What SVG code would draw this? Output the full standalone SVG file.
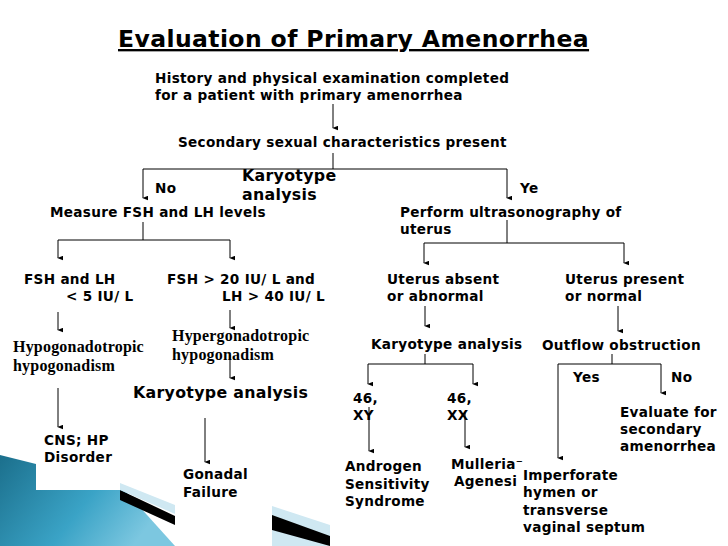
<svg xmlns="http://www.w3.org/2000/svg" width="728" height="546" viewBox="0 0 728 546">
<defs>
<linearGradient id="tg" x1="0" y1="0" x2="1" y2="0.4"><stop offset="0" stop-color="#1b6f8c"/><stop offset="0.6" stop-color="#3aa3c6"/><stop offset="1" stop-color="#7cc7e0"/></linearGradient>
<marker id="ar" viewBox="0 0 6 8" refX="3" refY="7" markerWidth="5" markerHeight="6" orient="auto-start-reverse" markerUnits="userSpaceOnUse"><path d="M0,0 L6,0 L3,8 z" fill="#000"/></marker>
<style>
text{font-family:"DejaVu Sans",Verdana,sans-serif;font-weight:bold;font-size:13.6px;letter-spacing:0.3px;fill:#000}
.t{font-size:23.5px;letter-spacing:0.4px;text-decoration:underline}
.b{font-size:15.8px}
.s{font-family:"Liberation Serif","Times New Roman",serif;font-size:16px;letter-spacing:0.2px}
#conn line,#conn path{stroke:#000;stroke-width:1;fill:none}
.a{marker-end:url(#ar)}
</style>
</defs>
<rect width="728" height="546" fill="#fff"/>
<g id="deco">
<polygon points="0,455 120,485 175,546 0,546" fill="url(#tg)"/>
<polygon points="120,490 175,516 175,525 120,500" fill="#000"/>
<polygon points="120,483 175,505 175,514 120,490" fill="#cfe8f2"/>
<polygon points="272,506 330,525 330,546 272,546" fill="#cfe8f2"/>
<polygon points="272,515 330,536 330,546 272,530" fill="#000"/>
<rect x="36" y="430" width="84" height="60" fill="#fff"/>
<rect x="176" y="462" width="96" height="84" fill="#fff"/>
</g>
<g id="conn">
<line class="a" x1="333" y1="104" x2="333" y2="128"/>
<path d="M333,153 V169 M143,169 H507"/>
<line class="a" x1="143" y1="169" x2="143" y2="198"/>
<line class="a" x1="507" y1="169" x2="507" y2="198"/>
<path d="M143,222 V240 M58,240 H230"/>
<line class="a" x1="58" y1="240" x2="58" y2="258"/>
<line class="a" x1="230" y1="240" x2="230" y2="258"/>
<path d="M507,220 V243 M424,243 H624"/>
<line class="a" x1="424" y1="243" x2="424" y2="263"/>
<line class="a" x1="624" y1="243" x2="624" y2="263"/>
<line class="a" x1="58" y1="312" x2="58" y2="330"/>
<line class="a" x1="230" y1="310" x2="230" y2="328"/>
<line class="a" x1="230" y1="355" x2="230" y2="378"/>
<line class="a" x1="58" y1="388" x2="58" y2="427"/>
<line class="a" x1="205" y1="418" x2="205" y2="462"/>
<line class="a" x1="425" y1="306" x2="425" y2="326"/>
<line class="a" x1="618" y1="306" x2="618" y2="331"/>
<path d="M425,354 V364 M368,364 H473"/>
<line class="a" x1="368" y1="364" x2="368" y2="384"/>
<line class="a" x1="473" y1="364" x2="473" y2="384"/>
<line class="a" x1="369" y1="407" x2="369" y2="451"/>
<line class="a" x1="465" y1="413" x2="465" y2="447"/>
<path d="M612,354 V364 M558,364 H661"/>
<line class="a" x1="558" y1="364" x2="558" y2="458"/>
<line class="a" x1="661" y1="364" x2="661" y2="393"/>
</g>
<text class="t" x="118" y="47">Evaluation of Primary Amenorrhea</text>
<g id="n1"><text x="155" y="83">History and physical examination completed</text><text x="155" y="100">for a patient with primary amenorrhea</text></g>
<g id="n2"><text x="178" y="147">Secondary sexual characteristics present</text></g>
<g id="lno"><text x="155" y="193" font-size="12">No</text></g>
<g id="lka"><text class="b" x="242" y="181">Karyotype</text><text class="b" x="242" y="200">analysis</text></g>
<g id="lye"><text x="520" y="193" font-size="12">Ye</text></g>
<g id="n3"><text x="50" y="217">Measure FSH and LH levels</text></g>
<g id="n4"><text x="400" y="217">Perform ultrasonography of</text><text x="400" y="234">uterus</text></g>
<g id="n5"><text x="24" y="284">FSH and LH</text><text x="66" y="301">&lt; 5  IU/ L</text></g>
<g id="n6"><text x="167" y="284">FSH &gt; 20 IU/ L  and</text><text x="222" y="301">LH &gt; 40 IU/ L</text></g>
<g id="n7"><text class="s" x="13" y="352">Hypogonadotropic</text><text class="s" x="13" y="371">hypogonadism</text></g>
<g id="n8"><text class="s" x="172" y="341">Hypergonadotropic</text><text class="s" x="172" y="360">hypogonadism</text></g>
<g id="n9"><text class="b" x="133" y="398">Karyotype analysis</text></g>
<g id="n10"><text x="44" y="445">CNS; HP</text><text x="44" y="462">Disorder</text></g>
<g id="n11"><text x="183" y="479">Gonadal</text><text x="183" y="497">Failure</text></g>
<g id="n12"><text x="387" y="284">Uterus absent</text><text x="387" y="301">or abnormal</text></g>
<g id="n13"><text x="565" y="284">Uterus present</text><text x="565" y="301">or normal</text></g>
<g id="n14"><text x="371" y="349">Karyotype analysis</text></g>
<g id="n15"><text x="542" y="350">Outflow obstruction</text></g>
<g id="n16"><text x="353" y="403">46,</text><text x="353" y="420">XY</text></g>
<g id="n17"><text x="447" y="403">46,</text><text x="447" y="420">XX</text></g>
<g id="n18"><text x="345" y="471">Androgen</text><text x="345" y="489">Sensitivity</text><text x="345" y="506">Syndrome</text></g>
<g id="n19"><text x="451" y="469">Mulleria⁻</text><text x="454" y="486">Agenesi</text></g>
<g id="lyes"><text x="573" y="382">Yes</text></g>
<g id="lno2"><text x="671" y="382">No</text></g>
<g id="n20"><text x="620" y="417">Evaluate for</text><text x="620" y="434">secondary</text><text x="620" y="451">amenorrhea</text></g>
<g id="n21"><text x="523" y="480">Imperforate</text><text x="523" y="497">hymen or</text><text x="523" y="515">transverse</text><text x="523" y="532">vaginal septum</text></g>
</svg>
